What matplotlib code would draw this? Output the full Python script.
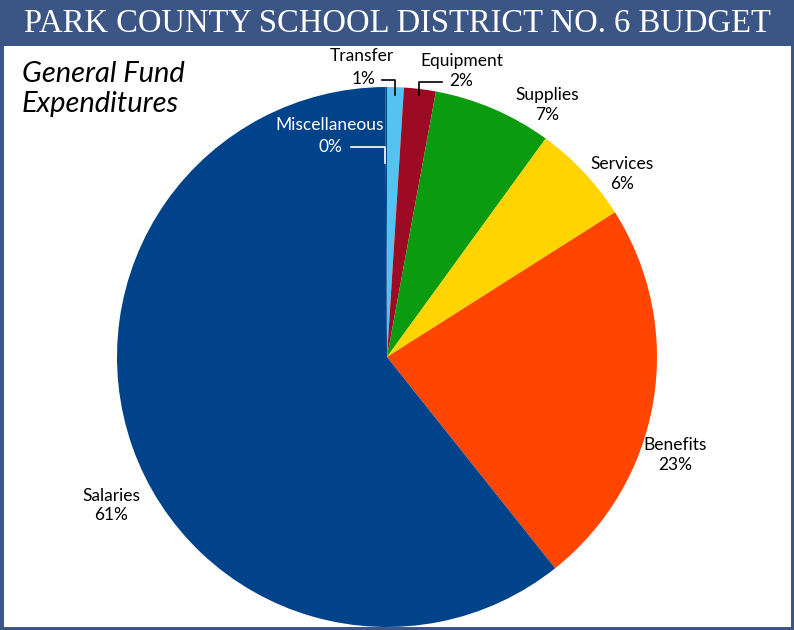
import numpy as np
import matplotlib.pyplot as plt
from matplotlib.patches import Rectangle

# slices in clockwise order from 12 o'clock
categories = ["Transfer", "Equipment", "Supplies", "Services", "Benefits", "Salaries", "Miscellaneous"]
shares = [1.0, 1.9, 7.1, 6.0, 23.3, 60.6, 0.1]
colors = ["#55c3f2", "#9c0a24", "#0b9b0e", "#ffd400", "#ff4500", "#00438a", "#00438a"]

title = "PARK COUNTY SCHOOL DISTRICT NO. 6 BUDGET"
subtitle = "General Fund\nExpenditures"

W, H = 794, 630
fig = plt.figure(figsize=(W / 100, H / 100), dpi=100)
fig.patch.set_facecolor("white")

navy = "#3b5585"
# frame + banner
fig.patches.append(Rectangle((0, 0), 1, 1, transform=fig.transFigure, fill=False,
                             edgecolor=navy, linewidth=5, zorder=0))
fig.patches.append(Rectangle((0, 1 - 46 / H), 1, 46 / H, transform=fig.transFigure,
                             facecolor=navy, edgecolor="none", zorder=1))
fig.text(0.5, 1 - 24 / H, title, ha="center", va="center", color="white",
         fontsize=23.5, family="Liberation Serif")
fig.text(22 / W, 1 - 89 / H, subtitle, ha="left", va="center", color="black",
         fontsize=21, family="Lato", style="italic", linespacing=1.15)

# pie: centre (387, 357) px, radius 270 px
cx, cy, r = 387, 357, 270
ax = fig.add_axes([(cx - r) / W, (H - cy - r) / H, 2 * r / W, 2 * r / H])
wedges, _ = ax.pie(shares, colors=colors, startangle=90, counterclock=False,
                   radius=1.0, wedgeprops=dict(linewidth=0))
ax.set_xlim(-1, 1)
ax.set_ylim(-1, 1)
ax.axis("off")

pct = [f"{round(v):d}%" for v in shares]
lab = dict(family="Lato", fontsize=12.5, ha="center", va="center")

def mid_x(i, rr):
    w = wedges[i]
    a = np.deg2rad((w.theta1 + w.theta2) / 2)
    return rr * np.cos(a)

# plain two-line labels
pos = {"Supplies": (0.593, 0.933), "Services": (0.870, 0.678),
       "Benefits": (1.067, -0.362), "Salaries": (-1.022, -0.550)}
for name, (x, y) in pos.items():
    i = categories.index(name)
    ax.text(x, y, f"{name}\n{pct[i]}", linespacing=1.3, clip_on=False, **lab)

# small slices with leader lines
i = categories.index("Transfer")
lx = mid_x(i, 0.97)
ax.text(-0.093, 1.113, "Transfer", clip_on=False, **lab)
ax.text(-0.085, 1.028, pct[i], clip_on=False, **lab)
ax.plot([-0.02, lx, lx], [1.026, 1.026, 0.97], color="black", lw=1.2, clip_on=False)

i = categories.index("Equipment")
lx = mid_x(i, 0.97)
ax.text(0.278, 1.098, "Equipment", clip_on=False, **lab)
ax.text(0.275, 1.021, pct[i], clip_on=False, **lab)
ax.plot([0.205, lx, lx], [1.019, 1.019, 0.97], color="black", lw=1.2, clip_on=False)

i = categories.index("Miscellaneous")
lx = mid_x(i, 0.75) - 0.004
ax.text(-0.211, 0.859, "Miscellaneous", color="white", **lab)
ax.text(-0.211, 0.778, pct[i], color="white", **lab)
ax.plot([-0.135, lx, lx], [0.778, 0.778, 0.719], color="white", lw=1.2)

fig.savefig("out.png", dpi=100)
